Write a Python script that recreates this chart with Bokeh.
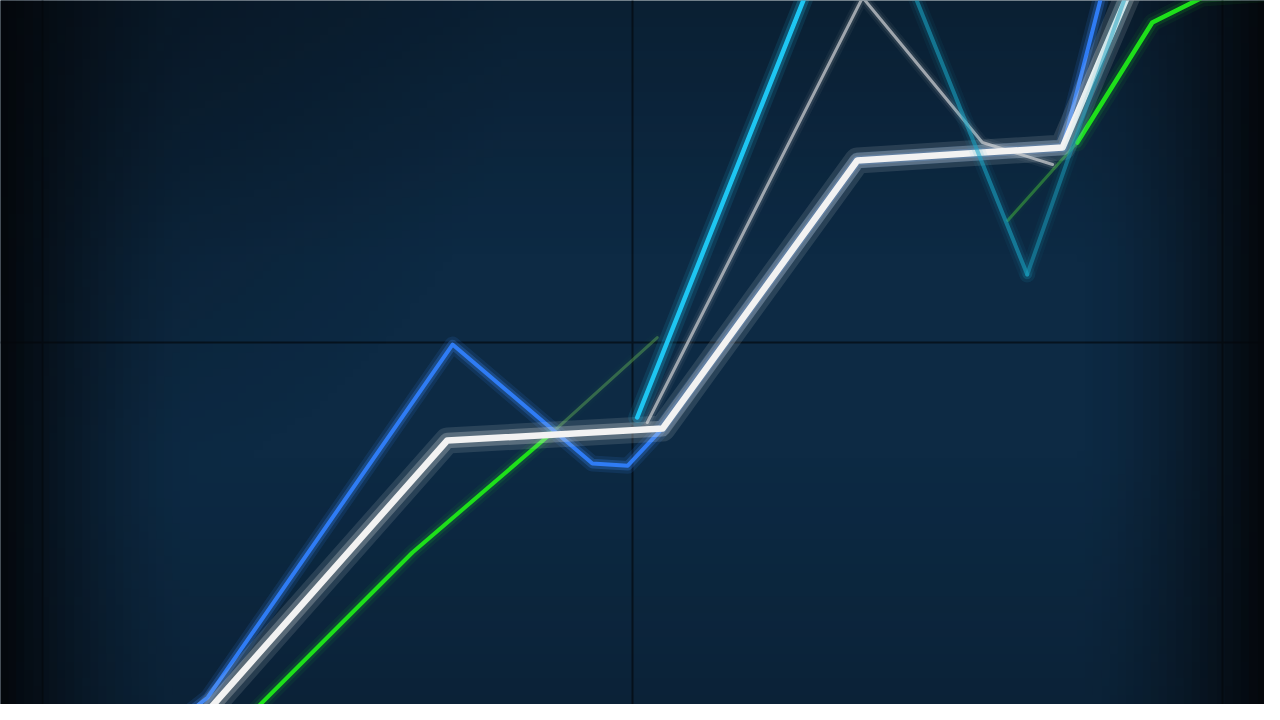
import numpy as np
from bokeh.plotting import figure
from bokeh.models import ColumnDataSource, FixedTicker
from bokeh.embed import file_html
from bokeh.resources import INLINE

# ---- data ----
blue_x = [2.37, 2.80, 6.95, 9.32, 9.92, 10.45, 13.81, 17.29, 18.05]
blue_y = [-3.57, -0.71, 49.71, 32.7, 32.4, 37.2, 76.0, 77.86, 102.86]

white_x = [2.63, 6.86, 10.51, 13.81, 17.29, 18.56]
white_y = [-4.29, 36.0, 37.7, 76.0, 77.86, 102.86]

green_x = [3.47, 6.27, 8.64, 10.42, 16.36, 17.54, 18.81, 19.66, 20.85]
green_y = [-3.57, 20.0, 37.14, 50.71, 67.43, 78.57, 95.71, 99.29, 100.0]

cyan_x = [10.08, 13.22, 14.49, 16.69, 18.56]
cyan_y = [39.29, 105.71, 105.71, 59.71, 104.29]

gray_x = [10.25, 13.90, 15.93, 17.12]
gray_y = [38.57, 99.29, 78.57, 75.43]

x_ticks = [0, 10, 20]
y_ticks = [50]

X0, X1 = -0.712, 20.712
Y0, Y1 = -1.714, 98.857

W, H = 1264, 704
p = figure(width=W, height=H, x_range=(X0, X1), y_range=(Y0, Y1),
           output_backend="svg", toolbar_location=None, min_border=0)
p.background_fill_color = "#0d2a44"
p.border_fill_color = "#05080c"
p.outline_line_color = None
p.xaxis.visible = False
p.yaxis.visible = False
p.xgrid.ticker = FixedTicker(ticks=x_ticks)
p.ygrid.ticker = FixedTicker(ticks=y_ticks)
p.grid.grid_line_color = "#06131f"
p.grid.grid_line_width = 2

# ---- vignette background (style only) ----
pad_x = (X1 - X0) * 0.02
pad_y = (Y1 - Y0) * 0.02
nh, nw = 90, 160
rows = np.arange(nh)
cols = np.arange(nw)
px = (cols + 0.5) / nw * W * 1.04 - W * 0.02
py = (1 - (rows + 0.5) / nh) * H * 1.04 - H * 0.02
PX, PY = np.meshgrid(px, py)
edge = np.clip(np.minimum(PX, W - PX), 0, None)
a_h = np.clip(1 - edge / 190.0, 0, 1) ** 1.6
a_top = 0.30 * np.clip(1 - PY / 260.0, 0, 1)
a_bot = 0.22 * np.clip((PY - 450) / 260.0, 0, 1)
dist = np.sqrt(PX ** 2 + PY ** 2)
a_tl = 0.45 * np.clip(1 - dist / 520.0, 0, 1)
alpha = np.clip(1 - (1 - a_h) * (1 - a_top) * (1 - a_bot) * (1 - a_tl), 0, 1)
img = np.zeros((nh, nw), dtype=np.uint32)
view = img.view(dtype=np.uint8).reshape((nh, nw, 4))
view[:, :, 0] = 4
view[:, :, 1] = 7
view[:, :, 2] = 11
view[:, :, 3] = (alpha * 255).astype(np.uint8)
p.image_rgba(image=[img], x=X0 - pad_x, y=Y0 - pad_y,
             dw=(X1 - X0) + 2 * pad_x, dh=(Y1 - Y0) + 2 * pad_y)


def glow_line(xs, ys, color, width, alpha=1.0, glow=None, glow_alpha=0.25):
    src = ColumnDataSource(dict(x=xs, y=ys))
    g = glow or color
    for w, a in ((width * 4.0, glow_alpha * 0.35), (width * 2.4, glow_alpha * 0.7)):
        p.line("x", "y", source=src, line_color=g, line_width=w, line_alpha=a * alpha,
               line_join="round", line_cap="round")
    p.line("x", "y", source=src, line_color=color, line_width=width, line_alpha=alpha,
           line_join="round", line_cap="round")


# green: solid, faint trails, solid
glow_line(green_x[:3], green_y[:3], "#1ee01a", 4, glow="#22ff22", glow_alpha=0.15)
glow_line(green_x[2:4], green_y[2:4], "#7cd85a", 3, alpha=0.35, glow_alpha=0.1)
glow_line(green_x[4:6], green_y[4:6], "#4cc83a", 3, alpha=0.45, glow_alpha=0.1)
glow_line(green_x[5:], green_y[5:], "#1ee01a", 4.5, glow="#22ff22", glow_alpha=0.15)

# blue
glow_line(blue_x, blue_y, "#2f7cf5", 4, glow="#3d8cff", glow_alpha=0.35)

# gray
glow_line(gray_x, gray_y, "#b4b9be", 3, alpha=0.85, glow="#c8ccd0", glow_alpha=0.2)

# white
glow_line(white_x, white_y, "#f2f2f2", 6.5, glow="#d8dadc", glow_alpha=0.4)

# cyan: bright rise, faint rest
glow_line(cyan_x[:3], cyan_y[:3], "#1ec6f2", 4.5, glow="#28d0ff", glow_alpha=0.3)
glow_line(cyan_x[2:4], cyan_y[2:4], "#1aa8c8", 4, alpha=0.55, glow="#1aa8c8", glow_alpha=0.3)
glow_line(cyan_x[3:], cyan_y[3:], "#1aa0c0", 4, alpha=0.5, glow="#1aa8c8", glow_alpha=0.3)

open("out.html", "w").write(file_html(p, INLINE))
